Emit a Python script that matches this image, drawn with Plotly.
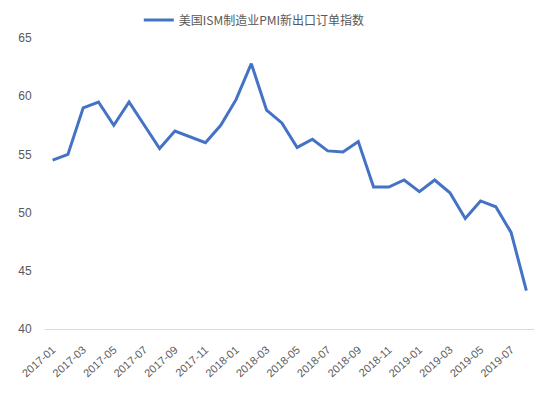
import plotly.graph_objects as go

months = [f"{y}-{m:02d}" for y in (2017, 2018, 2019) for m in range(1, 13)][:32]
values = [54.5, 55.0, 59.0, 59.5, 57.5, 59.5, 57.5, 55.5, 57.0, 56.5, 56.0, 57.5,
          59.7, 62.8, 58.8, 57.7, 55.6, 56.3, 55.3, 55.2, 56.1, 52.2, 52.2, 52.8,
          51.8, 52.8, 51.7, 49.5, 51.0, 50.5, 48.3, 43.3]
series_name = "美国ISM制造业PMI新出口订单指数"
tick_labels = months[::2]

fig = go.Figure()
fig.add_trace(go.Scatter(x=months, y=values, mode="lines", name=series_name,
                         line=dict(color="#4472C4", width=3)))

fig.update_layout(
    width=545, height=387,
    margin=dict(l=37, r=19, t=30, b=66, autoexpand=False),
    paper_bgcolor="white", plot_bgcolor="white",
    font=dict(family="Liberation Sans, Noto Sans CJK SC, sans-serif", size=12, color="#595959"),
    showlegend=True,
    legend=dict(orientation="h", x=0.24, xanchor="left", y=0.969, yanchor="middle",
                yref="container", xref="container",
                font=dict(family="Noto Sans CJK SC, sans-serif", size=12, color="#595959"),
                itemwidth=30),
    xaxis=dict(type="category", range=[-0.5, 31.5], tickangle=-42, automargin=False,
               tickmode="array", tickvals=tick_labels, ticktext=tick_labels,
               showgrid=False, showline=True, linecolor="#D9D9D9", linewidth=1,
               ticks="outside", ticklen=9, tickcolor="rgba(0,0,0,0)",
               tickfont=dict(size=11, color="#595959")),
    yaxis=dict(range=[40, 65], dtick=5, showgrid=False, zeroline=False, automargin=False,
               showline=False, ticks="outside", ticklen=10, tickcolor="rgba(0,0,0,0)",
               tickfont=dict(size=12, color="#595959")),
)

fig.write_html("out.html")
